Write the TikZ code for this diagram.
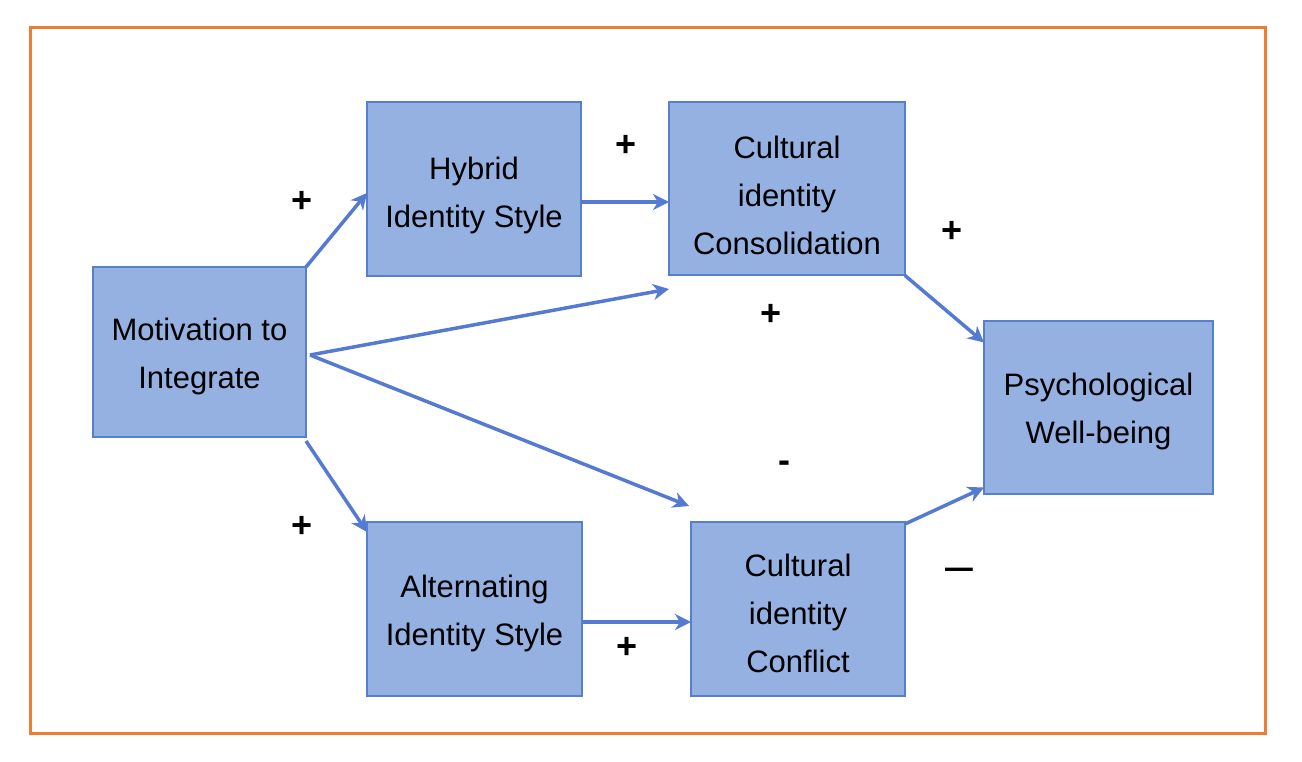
\documentclass[tikz,border=0pt]{standalone}
\usepackage{fontspec}
\setmainfont{Liberation Sans}
\usetikzlibrary{arrows.meta,calc}
\definecolor{boxfill}{RGB}{149,177,226}
\definecolor{boxline}{RGB}{86,128,204}
\definecolor{arrcol}{RGB}{84,122,210}
\definecolor{frame}{RGB}{237,125,49}
\tikzset{
  box/.style={draw=boxline, fill=boxfill, line width=2pt, inner sep=0pt, outer sep=0pt},
  txt/.style={align=center, inner sep=0pt, font=\fontsize{31}{48}\selectfont},
  arr/.style={draw=arrcol, line width=3.5pt, -{Stealth[length=16pt,width=16pt,inset=5pt]}},
  sign/.style={font=\fontsize{36}{36}\selectfont\bfseries, inner sep=0pt},
  widesign/.style={font=\fontsize{50}{50}\selectfont, inner sep=0pt}
}
\begin{document}
\begin{tikzpicture}[x=1pt,y=-1pt]
\useasboundingbox (0,0) rectangle (1302,762);
\fill[white] (0,0) rectangle (1302,762);
\draw[frame, line width=3pt] (30,28) rectangle (1265,733);

\node[box, minimum width=213pt, minimum height=170pt] (mot) at (199.5,352) {};
\node[box, minimum width=214pt, minimum height=174pt] (hyb) at (474,189) {};
\node[box, minimum width=236pt, minimum height=173pt] (con) at (787,189) {};
\node[box, minimum width=229pt, minimum height=173pt] (psy) at (1098.5,407) {};
\node[box, minimum width=215pt, minimum height=174pt] (alt) at (474.5,609) {};
\node[box, minimum width=214pt, minimum height=174pt] (cfl) at (798,609) {};

\node[txt] (motT) at ([yshift=-4pt]mot.center) {Motivation to\\Integrate};
\node[txt] (hybT) at ([yshift=-6pt]hyb.center) {Hybrid\\Identity Style};
\node[txt] (conT) at ([yshift=-6pt]con.center) {Cultural\\identity\\Consolidation};
\node[txt] (psyT) at ([yshift=-4pt]psy.center) {Psychological\\Well-being};
\node[txt] (altT) at ([yshift=-4pt]alt.center) {Alternating\\Identity Style};
\node[txt] (cflT) at ([yshift=-4pt]cfl.center) {Cultural\\identity\\Conflict};

\coordinate (mo) at (310,355);
\coordinate (t3) at (669,289);
\coordinate (t4) at (689,506);

\draw[arr] (mot.north east) -- ([yshift=-4pt]hyb.west);
\draw[arr] ([yshift=-13pt]hyb.east) -- ([yshift=-13pt]con.west);
\draw[arr] (mo) -- (t3);
\draw[arr] (mo) -- (t4);
\draw[arr] ([yshift=-4pt]mot.south east) -- ([yshift=-10pt]alt.north west);
\draw[arr] ([yshift=-13pt]alt.east) -- ([yshift=-13pt]cfl.west);
\draw[arr] (con.south east) -- ([yshift=-22pt]psy.north west);
\draw[arr] ([yshift=-2pt]cfl.north east) -- ([yshift=6pt]psy.south west);

\node[sign] (s1) at (302,202) {+};
\node[sign] (s2) at (626,146) {+};
\node[sign] (s3) at (952,232) {+};
\node[sign] (s4) at (771,315) {+};
\node[sign] (s5) at (784,467) {-};
\node[sign] (s6) at (302,527) {+};
\node[sign] (s7) at (627,648) {+};
\node[widesign] (s8) at (959,575) {–};
\end{tikzpicture}
\end{document}
